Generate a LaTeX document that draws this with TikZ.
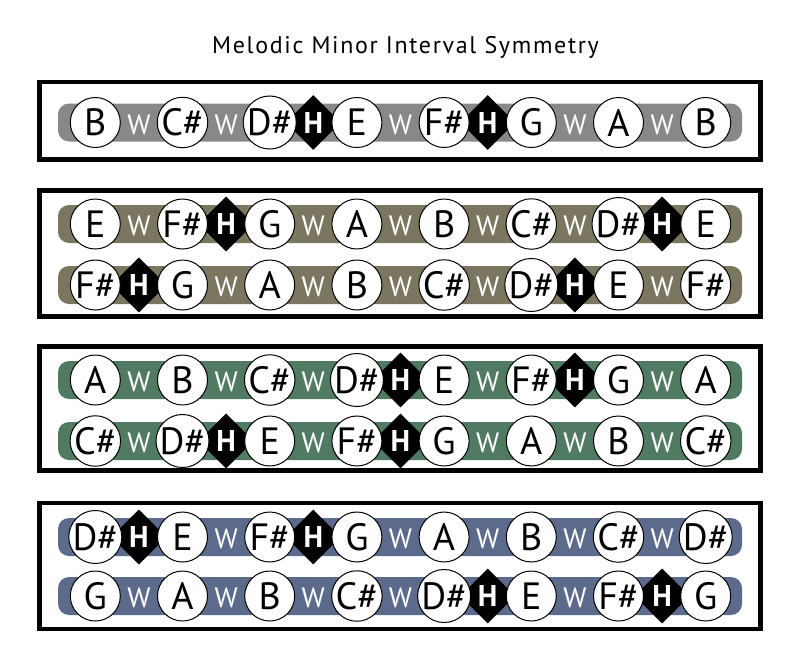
\documentclass[tikz,border=0pt]{standalone}
\usepackage{fontspec}
\setmainfont{PT Sans}
\newfontfamily\titlefont[LetterSpace=7]{PT Sans}
\usetikzlibrary{shapes.geometric}
\definecolor{bargray}{RGB}{136,136,136}
\definecolor{barolive}{RGB}{122,118,96}
\definecolor{bargreen}{RGB}{80,122,98}
\definecolor{barblue}{RGB}{92,106,140}
\tikzset{
  notecirc/.style={circle, draw=black, line width=1pt, fill=white, minimum size=50pt, inner sep=0pt,
    font=\fontsize{38}{38}\selectfont},
  halfstep/.style={diamond, fill=black, minimum width=55pt, minimum height=55pt, inner sep=0pt,
    text=white, font=\fontsize{30}{30}\selectfont\bfseries},
  wholestep/.style={inner sep=0pt, anchor=base, text=white, font=\fontsize{28}{28}\selectfont},
  framebox/.style={draw=black, line width=4.5pt},
  barshape/.style={rounded corners=11pt},
}
% #1 row id, #2 y, #3 colour, #4 notes, #5 intervals
\newcommand{\mmrow}[5]{%
  \fill[#3, barshape] (58,#2+19) rectangle (742,#2-19);
  \foreach \s [count=\i from 0] in {#5} {
    \pgfmathsetmacro\xx{95.3+87.2*\i+43.6}
    \ifx\s\hsym
      \node[halfstep] (i#1-\i) at (\xx,#2) {H};
    \else
      \node[wholestep] (i#1-\i) at (\xx,#2-11.5) {W};
    \fi
  }
  \foreach \n [count=\i from 0] in {#4} {
    \pgfmathsetmacro\xx{95.3+87.2*\i}
    \node[notecirc] (n#1-\i) at (\xx,#2) {\n};
  }
}
\def\hsym{H}
\begin{document}
\begin{tikzpicture}[x=1pt,y=1pt]
\useasboundingbox (0,0) rectangle (800,-664);
\node[anchor=base, font=\titlefont\fontsize{24}{24}\selectfont] (title) at (405.5,-53) {Melodic Minor Interval Symmetry};
% frames
\draw[framebox] (39.5,-82) rectangle (760.5,-159.5);
\draw[framebox] (39.5,-190.5) rectangle (760.5,-316.5);
\draw[framebox] (39.5,-346.7) rectangle (760.5,-470.5);
\draw[framebox] (39.5,-503) rectangle (760.5,-629);
% rows
\mmrow{a}{-122.5}{bargray}{B,C\#,D\#,E,F\#,G,A,B}{W,W,H,W,H,W,W}
\mmrow{b}{-224}{barolive}{E,F\#,G,A,B,C\#,D\#,E}{W,H,W,W,W,W,H}
\mmrow{c}{-285}{barolive}{F\#,G,A,B,C\#,D\#,E,F\#}{H,W,W,W,W,H,W}
\mmrow{d}{-380}{bargreen}{A,B,C\#,D\#,E,F\#,G,A}{W,W,W,H,W,H,W}
\mmrow{e}{-441}{bargreen}{C\#,D\#,E,F\#,G,A,B,C\#}{W,H,W,H,W,W,W}
\mmrow{f}{-537}{barblue}{D\#,E,F\#,G,A,B,C\#,D\#}{H,W,H,W,W,W,W}
\mmrow{g}{-596}{barblue}{G,A,B,C\#,D\#,E,F\#,G}{W,W,W,W,H,W,H}
\end{tikzpicture}
\end{document}
